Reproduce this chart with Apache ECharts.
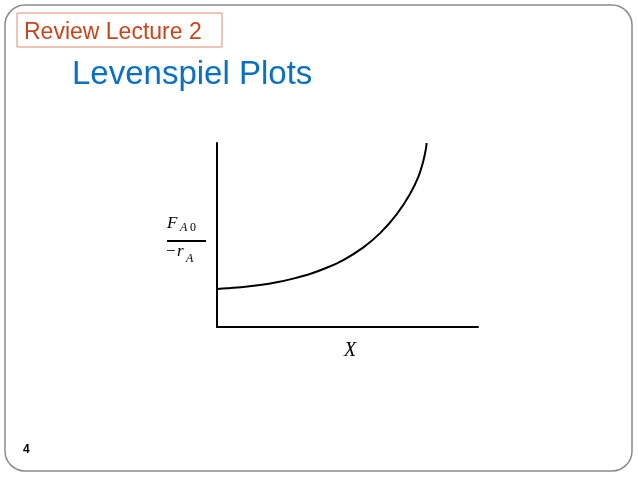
<!DOCTYPE html>
<html>
<head>
<meta charset="utf-8">
<script src="https://cdn.jsdelivr.net/npm/echarts@6/dist/echarts.min.js"></script>
<style>
html,body{margin:0;padding:0;background:#fff;}
#chart{width:638px;height:478px;}
</style>
</head>
<body>
<div id="chart"></div>
<script>
// Conversion X (fraction of axis range) and level of F_A0/(-r_A) (fraction of axis height)
var conversionX = [0, 0.037, 0.101, 0.165, 0.229, 0.292, 0.356, 0.420, 0.484, 0.561, 0.625, 0.689, 0.739, 0.771, 0.790, 0.801, 0.803];
var levenspielY = [0.207, 0.210, 0.217, 0.228, 0.243, 0.263, 0.288, 0.322, 0.364, 0.433, 0.510, 0.614, 0.722, 0.815, 0.900, 0.972, 1.0];
var slideTag = 'Review Lecture 2';
var slideTitle = 'Levenspiel Plots';
var pageNumber = '4';

var curve = conversionX.map(function (x, i) { return [x, levenspielY[i]]; });

var chart = echarts.init(document.getElementById('chart'), null, {renderer: 'canvas'});
var serif = '"Liberation Serif", "Times New Roman", serif';
var sans = '"Liberation Sans", Arial, sans-serif';

chart.setOption({
  backgroundColor: '#ffffff',
  animation: false,
  grid: {left: 217, top: 143, width: 261, height: 184, containLabel: false},
  xAxis: {
    type: 'value', min: 0, max: 1,
    axisLine: {show: true, onZero: false, lineStyle: {color: '#000', width: 2}},
    axisTick: {show: false}, axisLabel: {show: false}, splitLine: {show: false}
  },
  yAxis: {
    type: 'value', min: 0, max: 1,
    axisLine: {show: true, onZero: false, lineStyle: {color: '#000', width: 2}},
    axisTick: {show: false}, axisLabel: {show: false}, splitLine: {show: false}
  },
  series: [{
    type: 'line',
    data: curve,
    smooth: 0.3,
    showSymbol: false,
    clip: false,
    lineStyle: {color: '#000', width: 2}
  }],
  graphic: [
    {type: 'rect', shape: {x: 5, y: 5, width: 627, height: 466, r: 20},
     style: {fill: 'none', stroke: '#8a8a8a', lineWidth: 1.5}, silent: true},
    {type: 'rect', shape: {x: 17, y: 13, width: 205, height: 34},
     style: {fill: 'none', stroke: '#dd8a6c', lineWidth: 1}, silent: true},
    {type: 'text', x: 24, y: 33,
     style: {text: slideTag, font: '23px ' + sans, fill: '#c4461c', align: 'left', verticalAlign: 'middle'}},
    {type: 'text', x: 72, y: 75,
     style: {text: slideTitle, font: '33px ' + sans, fill: '#0b70c0', align: 'left', verticalAlign: 'middle'}},
    // y-axis label: F_A0 / (-r_A)
    {type: 'text', x: 167, y: 224,
     style: {text: 'F', font: 'italic 17px ' + serif, fill: '#000', align: 'left', verticalAlign: 'middle'}},
    {type: 'text', x: 180, y: 228,
     style: {text: 'A', font: 'italic 12px ' + serif, fill: '#000', align: 'left', verticalAlign: 'middle'}},
    {type: 'text', x: 190, y: 228,
     style: {text: '0', font: '12px ' + serif, fill: '#000', align: 'left', verticalAlign: 'middle'}},
    {type: 'line', shape: {x1: 167, y1: 241, x2: 206, y2: 241},
     style: {stroke: '#000', lineWidth: 2}},
    {type: 'text', x: 166, y: 252,
     style: {text: '\u2212', font: '17px ' + serif, fill: '#000', align: 'left', verticalAlign: 'middle'}},
    {type: 'text', x: 177, y: 252,
     style: {text: 'r', font: 'italic 17px ' + serif, fill: '#000', align: 'left', verticalAlign: 'middle'}},
    {type: 'text', x: 186, y: 259,
     style: {text: 'A', font: 'italic 12px ' + serif, fill: '#000', align: 'left', verticalAlign: 'middle'}},
    // x-axis label
    {type: 'text', x: 344, y: 351,
     style: {text: 'X', font: 'italic 20px ' + serif, fill: '#000', align: 'left', verticalAlign: 'middle'}},
    // page number
    {type: 'text', x: 23, y: 450,
     style: {text: pageNumber, font: 'bold 12px ' + sans, fill: '#000', align: 'left', verticalAlign: 'middle'}}
  ]
});
</script>
</body>
</html>
